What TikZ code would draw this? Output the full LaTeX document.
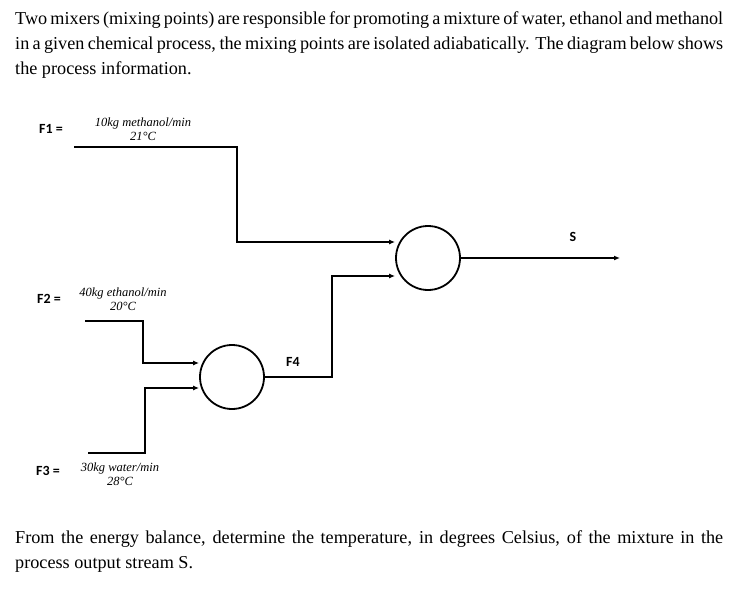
\documentclass[tikz,border=0pt]{standalone}
\usepackage{fontspec}
\setmainfont{Liberation Serif}
\newfontfamily\calfont{Carlito}
\usetikzlibrary{arrows.meta}
\begin{document}
\begin{tikzpicture}[x=1pt,y=-1pt,
  pipe/.style={line width=1.8pt},
  feed/.style={pipe,-{Latex[length=6pt,width=5pt]}},
  mixer/.style={circle,draw,line width=1.8pt,minimum size=64pt,inner sep=0pt},
  tag/.style={font=\calfont\bfseries\fontsize{14}{14}\selectfont},
  info/.style={font=\itshape\fontsize{12.5}{14}\selectfont,align=center},
  para/.style={anchor=north west,text width=708pt,align=justify,inner sep=0pt,font=\fontsize{18.2}{25}\selectfont}]
\useasboundingbox (0,0) rectangle (752,615);
\node[para] (top) at (15,11) {Two mixers (mixing points) are responsible for promoting a mixture of water, ethanol and methanol in a given chemical process, the mixing points are isolated adiabatically. The diagram below shows the process information.};
\node[para] (bot) at (15,530) {From the energy balance, determine the temperature, in degrees Celsius, of the mixture in the process output stream S.};
\node[mixer] (m2) at (428,258) {};
\node[mixer] (m1) at (232,377) {};
\coordinate (f1) at (74,147);
\coordinate (f2) at (85,321);
\coordinate (f3) at (88,453);
\coordinate (s) at (620,258);
\draw[feed] (f1) -| (237,242) -- (m2.west |- 0,242);
\draw[feed] (m1.east) -| (332,276) -- (m2.west |- 0,276);
\draw[feed] (m2.east) -- (s);
\draw[feed] (f2) -| (143,363) -- (m1.west |- 0,363);
\draw[feed] (f3) -| (145,388) -- (m1.west |- 0,388);
\node[tag] (t1) at (51,129) {F1 =};
\node[tag] (t2) at (49,299) {F2 =};
\node[tag] (t3) at (48,471) {F3 =};
\node[tag] (t4) at (293,362) {F4};
\node[tag] (ts) at (573,237) {S};
\node[info] (i1) at (143,129) {10kg methanol/min\\21°C};
\node[info] (i2) at (123,299) {40kg ethanol/min\\20°C};
\node[info] (i3) at (120,474) {30kg water/min\\28°C};
\end{tikzpicture}
\end{document}
